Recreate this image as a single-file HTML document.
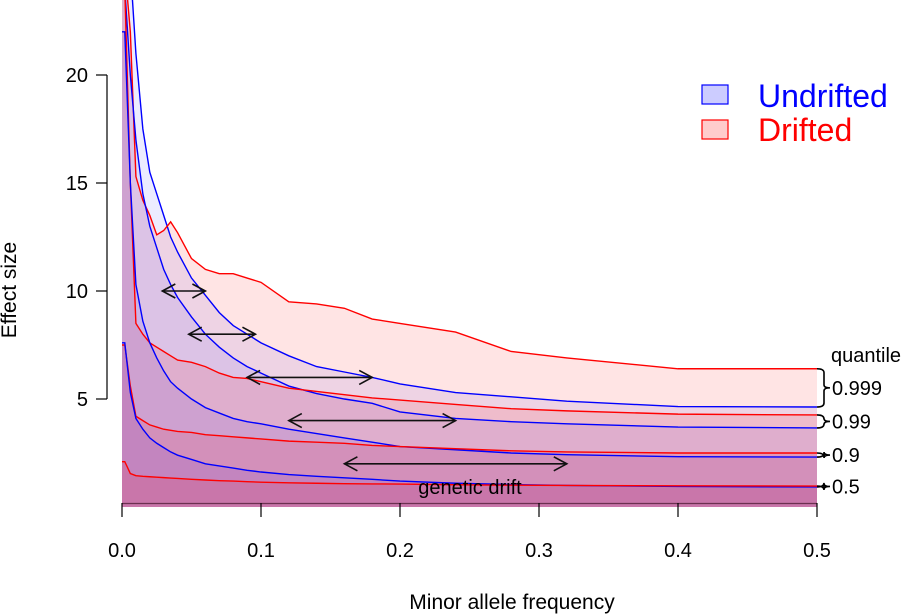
<!DOCTYPE html>
<html><head><meta charset="utf-8"><style>
html,body{margin:0;padding:0;background:#fff;}
svg{display:block;font-family:"Liberation Sans",sans-serif;}
</style></head><body>
<svg id="chart" width="912" height="615" viewBox="0 0 912 615" xmlns="http://www.w3.org/2000/svg">
<defs><clipPath id="pc"><rect x="100" y="0" width="730" height="508"/></clipPath></defs>
<g id="fills" clip-path="url(#pc)"></g>
<g id="lines" clip-path="url(#pc)"></g>
<g id="axes"></g>
<g id="annot"></g>
<text x="16" y="290" transform="rotate(-90 16 290)" text-anchor="middle" font-size="21">Effect size</text>
<text x="512" y="609" text-anchor="middle" font-size="21">Minor allele frequency</text>
<g>
<rect x="702" y="85" width="26" height="19" fill="#ccccff" stroke="#0000ff" stroke-width="1.2"/>
<text x="758" y="107" font-size="32" fill="#0000ff">Undrifted</text>
<rect x="702" y="120" width="26" height="19" fill="#ffcccc" stroke="#ff0000" stroke-width="1.2"/>
<text x="758" y="141" font-size="32" fill="#ff0000">Drifted</text>
</g>
</svg>
<script>
const freqs = [0.002,0.006,0.01,0.015,0.02,0.025,0.03,0.035,0.04,0.05,0.06,0.07,0.08,0.09,0.1,0.12,0.14,0.16,0.18,0.2,0.24,0.28,0.32,0.4,0.5];
const undrifted999 = [30,25,21,17.5,15.5,14.5,13.5,12.5,11.8,10.6,9.8,9.0,8.4,8.0,7.6,7.0,6.5,6.25,6.0,5.7,5.3,5.1,4.9,4.65,4.63];
const undrifted99 = [24,20,17,14.5,13.0,12.0,11.0,10.3,9.7,8.8,8.0,7.4,6.9,6.5,6.2,5.6,5.25,5.0,4.8,4.4,4.1,3.95,3.85,3.7,3.66];
const undrifted9 = [22,15,10.3,8.6,7.6,6.9,6.3,5.8,5.5,5.0,4.6,4.35,4.1,3.95,3.85,3.6,3.4,3.2,3.0,2.8,2.65,2.5,2.42,2.33,2.31];
const undrifted5 = [7.6,5.3,4.1,3.6,3.2,2.95,2.75,2.55,2.4,2.2,2.0,1.9,1.8,1.7,1.62,1.5,1.42,1.35,1.28,1.2,1.1,1.04,1.0,0.95,0.93];
const drifted999 = [25,22,15.3,14.2,13.5,12.6,12.8,13.2,12.7,11.5,11.0,10.8,10.8,10.6,10.4,9.5,9.4,9.2,8.7,8.5,8.1,7.2,6.9,6.4,6.4];
const drifted99 = [24,15,8.5,8.0,7.6,7.4,7.2,7.0,6.8,6.7,6.5,6.2,6.0,5.95,5.8,5.5,5.35,5.2,5.05,4.95,4.75,4.55,4.45,4.3,4.26];
const drifted9 = [7.5,5.6,4.2,4.0,3.8,3.7,3.6,3.55,3.5,3.45,3.35,3.3,3.25,3.2,3.15,3.05,3.0,2.95,2.85,2.8,2.7,2.6,2.55,2.5,2.5];
const drifted5 = [2.1,1.55,1.45,1.42,1.4,1.38,1.36,1.34,1.32,1.28,1.25,1.22,1.2,1.17,1.15,1.12,1.1,1.08,1.07,1.06,1.03,1.01,1.0,0.98,0.97];
const xTicks = [0,0.1,0.2,0.3,0.4,0.5];
const xTickLabels = ["0.0","0.1","0.2","0.3","0.4","0.5"];
const yTicks = [5,10,15,20];
const yTickLabels = ["5","10","15","20"];
const quantileLabels = ["0.999","0.99","0.9","0.5"];

const NS="http://www.w3.org/2000/svg";
const X = f => 122 + f*1390;
const Y = v => 507 - v*21.6;
function mk(tag, attrs, parent){const e=document.createElementNS(NS,tag);for(const k in attrs)e.setAttribute(k,attrs[k]);parent.appendChild(e);return e;}
const fills=document.getElementById('fills'), lines=document.getElementById('lines'), axes=document.getElementById('axes'), annot=document.getElementById('annot');

function ptsOf(vals){const p=[[X(0),Y(vals[0])]];freqs.forEach((f,i)=>p.push([X(f),Y(vals[i])]));return p;}
const BF="rgba(0,0,255,0.075)", RF="rgba(255,0,0,0.105)";
const series=[
 ["undrifted-999",undrifted999,"#0000ff",BF],
 ["drifted-999",drifted999,"#ff0000",RF],
 ["undrifted-99",undrifted99,"#0000ff",BF],
 ["drifted-99",drifted99,"#ff0000",RF],
 ["undrifted-9",undrifted9,"#0000ff",BF],
 ["drifted-9",drifted9,"#ff0000",RF],
 ["undrifted-5",undrifted5,"#0000ff",BF],
 ["drifted-5",drifted5,"#ff0000",RF]
];
series.forEach(s=>{
  const p=ptsOf(s[1]);
  const poly=p.map(q=>q.join(',')).join(' ')+` ${X(0.5)},${Y(0)} ${X(0)},${Y(0)}`;
  const a=mk('polygon',{points:poly,fill:s[3],stroke:'none'},fills);
  
  
});
series.forEach(s=>{
  const p=ptsOf(s[1]);
  const l=mk('polyline',{points:p.map(q=>q.join(',')).join(' '),fill:'none',stroke:s[2],'stroke-width':1.4},lines);
  
  
});
const xa=mk('line',{x1:X(0),x2:X(0.5),y1:503.5,y2:503.5,stroke:'#6a3050','stroke-width':1.3},axes);


xTicks.forEach((t,i)=>{
  const tk=mk('line',{x1:X(t),x2:X(t),y1:503,y2:517,stroke:'#000','stroke-width':1.2},axes);
  
  
  const tx=mk('text',{x:X(t),y:557,'text-anchor':'middle','font-size':20},axes);
  tx.textContent=xTickLabels[i];
  
  
});
const ya=mk('line',{x1:107,x2:107,y1:Y(20),y2:Y(5),stroke:'#000','stroke-width':1.2},axes);


yTicks.forEach((t,i)=>{
  const tk=mk('line',{x1:96,x2:107,y1:Y(t),y2:Y(t),stroke:'#000','stroke-width':1.2},axes);
  
  
  const tx=mk('text',{x:88,y:Y(t)+7,'text-anchor':'end','font-size':20},axes);
  tx.textContent=yTickLabels[i];
  
  
});
const arrows=[[0.029,0.06,10],[0.048,0.096,8],[0.09,0.18,6],[0.12,0.24,4],[0.16,0.32,2]];
arrows.forEach(a=>{
  const x1=X(a[0]),x2=X(a[1]),y=Y(a[2]);
  const g=mk('g',{stroke:'#111','stroke-width':1.6,fill:'none'},annot);
  
  
  mk('line',{x1:x1,x2:x2,y1:y,y2:y},g);
  mk('polyline',{points:`${x1+13},${y-7} ${x1},${y} ${x1+13},${y+7}`},g);
  mk('polyline',{points:`${x2-13},${y-7} ${x2},${y} ${x2-13},${y+7}`},g);
});
const gd=mk('text',{x:470,y:494,'text-anchor':'middle','font-size':20},annot);
gd.textContent='genetic drift';


const q=mk('text',{x:831,y:362,'font-size':20},annot);
q.textContent='quantile';


const pairs=[[drifted999,undrifted999],[drifted99,undrifted99],[drifted9,undrifted9],[drifted5,undrifted5]];
pairs.forEach((pr,i)=>{
  const top=Y(pr[0][pr[0].length-1]), bot=Y(pr[1][pr[1].length-1]), mid=(top+bot)/2;
  const b=mk('path',{d:`M817,${top} Q824,${top} 824,${top+4} L824,${mid-3} Q824,${mid} 830,${mid} Q824,${mid} 824,${mid+3} L824,${bot-4} Q824,${bot} 817,${bot}`,fill:'none',stroke:'#000','stroke-width':1.6},annot);
  
  
  const t=mk('text',{x:832,y:mid+7,'font-size':20},annot);
  t.textContent=quantileLabels[i];
  
  
});
</script>
</body></html>
